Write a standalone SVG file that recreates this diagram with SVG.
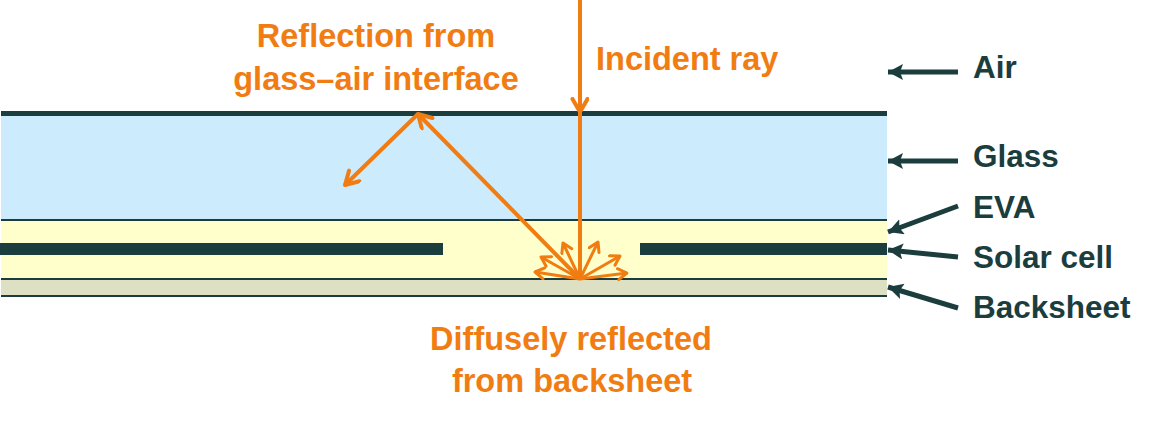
<svg xmlns="http://www.w3.org/2000/svg" width="1156" height="428" viewBox="0 0 1156 428">
<style>
.lbl{font-family:"Liberation Sans",Arial,sans-serif;font-weight:bold;font-size:31.5px;fill:#1B3D3D}
.olbl{font-family:"Liberation Sans",Arial,sans-serif;font-weight:bold;font-size:32.5px;fill:#F07C12}
.ray{stroke:#F07C12;stroke-width:4;fill:none}
.dray{stroke:#F07C12;stroke-width:3;fill:none}
.ptr{stroke:#1B3D3D;stroke-width:5;fill:none}
.edge{fill:#1B3D3D}
</style>
<defs>
<marker id="ohead" markerUnits="userSpaceOnUse" markerWidth="22" markerHeight="22" refX="15" refY="9" orient="auto">
<path d="M2,1.5 L15,9 L2,16.5" fill="none" stroke="#F07C12" stroke-width="4" stroke-linecap="round" stroke-linejoin="round"/>
</marker>
<marker id="osmall" markerUnits="userSpaceOnUse" markerWidth="16" markerHeight="16" refX="11" refY="7" orient="auto">
<path d="M2,1.5 L11,7 L2,12.5" fill="none" stroke="#F07C12" stroke-width="3" stroke-linecap="round" stroke-linejoin="round"/>
</marker>
<marker id="dhead" markerUnits="userSpaceOnUse" markerWidth="20" markerHeight="20" refX="15" refY="8" orient="auto">
<path d="M15,8 L0,0 L3,8 L0,16 Z" fill="#1B3D3D"/>
</marker>
</defs>
<g id="layers">
<rect id="glass" x="1" y="115" width="886" height="104" fill="#CCEBFD"/>
<rect id="eva" x="1" y="221" width="886" height="57" fill="#FFFFCC"/>
<rect id="backsheet" x="1" y="280" width="886" height="15" fill="#DDE0C2"/>
<rect class="edge" x="1" y="111" width="886" height="5"/>
<rect class="edge" x="1" y="219" width="886" height="2"/>
<rect class="edge" x="1" y="278" width="886" height="2"/>
<rect class="edge" x="1" y="295" width="886" height="2"/>
<rect id="cell-left" class="edge" x="0" y="243" width="443" height="12"/>
<rect id="cell-right" class="edge" x="640" y="243" width="247" height="12"/>
</g>
<g id="connectors">
<line class="ray" x1="580" y1="0" x2="580" y2="112" marker-end="url(#ohead)"/>
<line class="ray" x1="580" y1="112" x2="580" y2="279"/>
<line class="ray" x1="580" y1="279" x2="418" y2="114" marker-end="url(#ohead)"/>
<line class="ray" x1="418" y1="114" x2="345" y2="185" marker-end="url(#ohead)"/>
<line class="dray" x1="580" y1="279" x2="535" y2="272" marker-end="url(#osmall)"/>
<line class="dray" x1="580" y1="279" x2="541" y2="257" marker-end="url(#osmall)"/>
<line class="dray" x1="580" y1="279" x2="563" y2="243" marker-end="url(#osmall)"/>
<line class="dray" x1="580" y1="279" x2="598" y2="242" marker-end="url(#osmall)"/>
<line class="dray" x1="580" y1="279" x2="620" y2="256" marker-end="url(#osmall)"/>
<line class="dray" x1="580" y1="279" x2="627" y2="273" marker-end="url(#osmall)"/>
<line class="ptr" x1="958" y1="72" x2="888" y2="72" marker-end="url(#dhead)"/>
<line class="ptr" x1="958" y1="161" x2="888" y2="161" marker-end="url(#dhead)"/>
<line class="ptr" x1="958" y1="206" x2="888" y2="232" marker-end="url(#dhead)"/>
<line class="ptr" x1="958" y1="257" x2="888" y2="250" marker-end="url(#dhead)"/>
<line class="ptr" x1="958" y1="308" x2="888" y2="287" marker-end="url(#dhead)"/>
</g>
<g id="labels">
<text class="lbl" x="973" y="78">Air</text>
<text class="lbl" x="973" y="167">Glass</text>
<text class="lbl" x="973" y="218">EVA</text>
<text class="lbl" x="973" y="268">Solar cell</text>
<text class="lbl" x="973" y="318">Backsheet</text>
<text class="olbl" x="376" y="47" text-anchor="middle">Reflection from</text>
<text class="olbl" x="376" y="90" text-anchor="middle">glass–air interface</text>
<text class="olbl" x="596" y="70">Incident ray</text>
<text class="olbl" x="571" y="350" text-anchor="middle">Diffusely reflected</text>
<text class="olbl" x="572" y="392" text-anchor="middle">from backsheet</text>
</g>
</svg>
